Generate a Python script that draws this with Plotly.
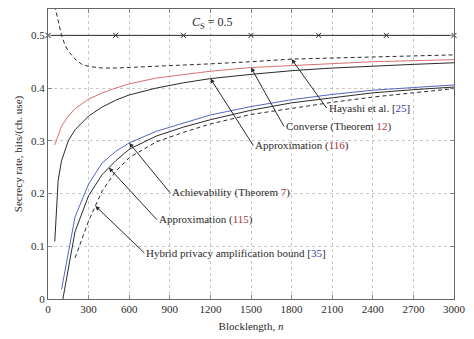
import numpy as np
import plotly.graph_objects as go

# Secrecy capacity reference
n_cap = [0, 500, 1000, 1500, 2000, 2500, 3000]
cap = [0.5] * len(n_cap)

# Hayashi et al. bound
n_hay = [50, 75, 100, 125, 150, 200, 250, 300, 400, 500, 600, 800, 1000, 1200, 1500, 1800, 2100, 2400, 2700, 3000]
r_hay = [0.556, 0.525, 0.500, 0.482, 0.470, 0.455, 0.445, 0.441, 0.438, 0.438, 0.439, 0.442, 0.444, 0.446, 0.450, 0.455, 0.457, 0.459, 0.461, 0.463]

# Converse (Theorem 12)
n_conv = [50, 100, 150, 200, 300, 400, 500, 600, 800, 1000, 1200, 1500, 1800, 2100, 2400, 2700, 3000]
r_conv = [0.292, 0.328, 0.347, 0.361, 0.379, 0.391, 0.400, 0.408, 0.419, 0.426, 0.432, 0.439, 0.443, 0.447, 0.450, 0.452, 0.454]

# Approximation (116)
n_a116 = [50, 75, 100, 150, 200, 300, 400, 500, 600, 800, 1000, 1200, 1500, 1800, 2100, 2400, 2700, 3000]
r_a116 = [0.109, 0.225, 0.262, 0.300, 0.321, 0.347, 0.364, 0.377, 0.387, 0.400, 0.410, 0.418, 0.426, 0.433, 0.438, 0.442, 0.445, 0.448]

# Achievability (Theorem 7)
n_ach = [100, 200, 300, 400, 500, 600, 800, 1000, 1200, 1500, 1800, 2100, 2400, 2700, 3000]
r_ach = [0.018, 0.156, 0.218, 0.258, 0.280, 0.296, 0.318, 0.334, 0.349, 0.365, 0.378, 0.388, 0.396, 0.401, 0.406]

# Approximation (115)
n_a115 = [110, 200, 300, 400, 500, 600, 800, 1000, 1200, 1500, 1800, 2100, 2400, 2700, 3000]
r_a115 = [0.000, 0.128, 0.196, 0.236, 0.262, 0.284, 0.309, 0.326, 0.340, 0.358, 0.372, 0.382, 0.391, 0.397, 0.402]

# Hybrid privacy amplification bound
n_hyb = [200, 300, 400, 500, 600, 800, 1000, 1200, 1500, 1800, 2100, 2400, 2700, 3000]
r_hyb = [0.078, 0.148, 0.205, 0.242, 0.268, 0.298, 0.316, 0.332, 0.350, 0.362, 0.373, 0.383, 0.391, 0.399]

x_ticks = [0, 300, 600, 900, 1200, 1500, 1800, 2100, 2400, 2700, 3000]
y_ticks = [0, 0.1, 0.2, 0.3, 0.4, 0.5]

INK = "#2b2b2b"
RED_LINE = "#d9706f"
BLUE_LINE = "#5566c4"
REF_RED = "#a8343a"
REF_BLUE = "#3a3ea8"
FONT = "Liberation Serif"

fig = go.Figure()
fig.add_trace(go.Scatter(x=n_cap, y=cap, mode="lines+markers", cliponaxis=False,
                         line=dict(color=INK, width=1),
                         marker=dict(symbol="x-thin", size=5, line=dict(color=INK, width=1))))
fig.add_trace(go.Scatter(x=n_hay, y=r_hay, mode="lines",
                         line=dict(color=INK, width=1, dash="4px,3px")))
fig.add_trace(go.Scatter(x=n_conv, y=r_conv, mode="lines",
                         line=dict(color=RED_LINE, width=1)))
fig.add_trace(go.Scatter(x=n_a116, y=r_a116, mode="lines",
                         line=dict(color=INK, width=1)))
fig.add_trace(go.Scatter(x=n_ach, y=r_ach, mode="lines",
                         line=dict(color=BLUE_LINE, width=1)))
fig.add_trace(go.Scatter(x=n_a115, y=r_a115, mode="lines",
                         line=dict(color=INK, width=1)))
fig.add_trace(go.Scatter(x=n_hyb, y=r_hyb, mode="lines",
                         line=dict(color=INK, width=1, dash="4px,3px")))


def on_curve(xs, ys, at):
    return at, float(np.interp(at, xs, ys))


labels = [
    (n_hay, r_hay, 1800, f'Hayashi et al. [<span style="color:{REF_BLUE}">25</span>]', 35, 49),
    (n_conv, r_conv, 1500, f'Converse (Theorem <span style="color:{REF_RED}">12</span>)', 33, 59),
    (n_a116, r_a116, 1200, f'Approximation (<span style="color:{REF_RED}">116</span>)', 43, 67),
    (n_ach, r_ach, 600, f'Achievability (Theorem <span style="color:{REF_RED}">7</span>)', 41, 50),
    (n_a115, r_a115, 450, f'Approximation (<span style="color:{REF_RED}">115</span>)', 48, 52),
    (n_hyb, r_hyb, 350, f'Hybrid privacy amplification bound [<span style="color:{REF_BLUE}">35</span>]', 49, 47),
]
annotations = []
for xs, ys, at, text, dx, dy in labels:
    hx, hy = on_curve(xs, ys, at)
    annotations.append(dict(
        x=hx, y=hy, xref="x", yref="y", text=text, showarrow=True,
        ax=dx, ay=dy, xanchor="left", yanchor="middle",
        arrowhead=2, arrowsize=0.9, arrowwidth=1, arrowcolor=INK,
        font=dict(family=FONT, size=11, color=INK),
    ))

annotations.append(dict(
    x=1210, y=0.5, xref="x", yref="y", text="<i>C</i><sub>S</sub> = 0.5",
    showarrow=False, yanchor="bottom", yshift=2,
    font=dict(family=FONT, size=12, color=INK),
))

axis_common = dict(
    showline=True, linecolor="#666666", linewidth=1, mirror="ticks",
    ticks="inside", ticklen=4, tickcolor="#888888",
    showgrid=True, gridcolor="#c8c8c8", griddash="dot", gridwidth=1,
    zeroline=False, tickfont=dict(family=FONT, size=11, color=INK),
)

fig.update_layout(
    width=474, height=339,
    margin=dict(l=48, r=16, t=8, b=40),
    paper_bgcolor="white", plot_bgcolor="white",
    showlegend=False,
    font=dict(family=FONT, color=INK),
    xaxis=dict(range=[0, 3000], tickvals=x_ticks,
               title=dict(text="Blocklength, <i>n</i>", font=dict(family=FONT, size=11, color=INK), standoff=8),
               **axis_common),
    yaxis=dict(range=[0, 0.55], tickvals=y_ticks, ticktext=["0", "0.1", "0.2", "0.3", "0.4", "0.5"],
               title=dict(text="Secrecy rate, bits/(ch. use)", font=dict(family=FONT, size=11, color=INK), standoff=6),
               **axis_common),
    annotations=annotations,
)

fig.write_html("out.html")
